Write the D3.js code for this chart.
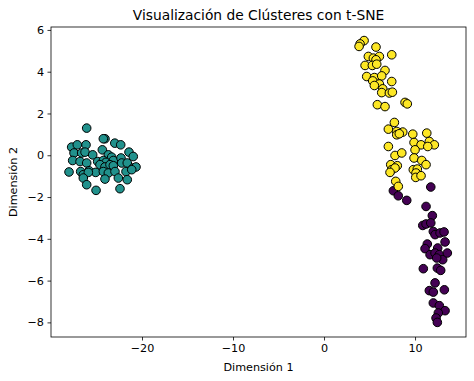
<!DOCTYPE html>
<html><head><meta charset="utf-8">
<script src="https://cdn.jsdelivr.net/npm/d3@7"></script>
<style>body{margin:0;background:#fff}svg{display:block}text{font-family:"DejaVu Sans",sans-serif;fill:#000}</style>
</head><body><svg id="c" width="474" height="381"></svg>
<script>
const clusterNames = ["c0", "c1", "c2"];
const clusterColors = ["#440154", "#21918c", "#fde725"];
const tealX = [-26.08,-24.07,-24.25,-22.99,-22.34,-27.73,-27.11,-26.15,-24.36,-21.43,-20.96,-27.47,-26.63,-26.26,-25.42,-23.70,-23.33,-27.62,-26.81,-26.08,-24.87,-24.25,-23.96,-23.15,-22.31,-22.23,-21.62,-24.62,-24.07,-23.52,-23.15,-20.96,-20.66,-28.02,-26.74,-25.82,-25.09,-26.45,-25.90,-24.25,-23.70,-22.97,-21.76,-21.13,-26.45,-24.07,-22.60,-21.62,-26.08,-25.05,-22.42];
const tealY = [1.30,0.79,0.79,0.58,0.50,0.39,0.50,0.50,0.26,0.15,-0.06,0.11,0.11,0.15,0.02,0.02,-0.09,-0.25,-0.30,-0.37,-0.30,-0.25,-0.34,-0.25,-0.13,-0.37,-0.37,-0.45,-0.56,-0.45,-0.50,-0.61,-0.56,-0.80,-0.78,-0.74,-0.82,-0.93,-0.82,-0.78,-0.85,-0.78,-0.78,-0.69,-1.09,-1.14,-1.09,-1.17,-1.41,-1.68,-1.60];
const yellowX = [4.40,3.96,3.85,5.71,4.87,5.42,6.08,7.44,5.71,4.51,5.31,5.79,6.70,4.69,5.53,6.34,5.35,6.08,7.44,5.53,6.45,6.34,7.18,7.51,5.86,6.70,8.90,9.15,7.73,7.07,7.99,8.65,9.75,11.29,7.99,8.27,9.89,10.66,11.57,12.12,11.40,7.07,10.00,7.80,8.54,9.89,10.74,7.33,8.05,11.21,7.44,7.80,7.25,9.81,10.25,10.11,10.08,10.66,7.88,8.16];
const yellowY = [5.49,5.33,5.21,5.18,4.73,4.65,4.73,4.81,4.57,4.30,4.30,4.36,4.06,3.77,3.72,3.80,3.56,3.41,3.53,3.34,3.18,3.00,2.98,3.02,2.42,2.33,2.53,2.46,1.57,1.25,1.14,1.11,1.01,1.06,0.98,1.03,0.61,0.50,0.66,0.50,0.42,0.42,0.26,-0.01,0.11,-0.13,-0.25,-0.45,-0.50,-0.45,-0.69,-0.61,-0.82,-0.69,-0.66,-0.85,-1.06,-0.98,-1.25,-1.49];
const purpleX = [7.62,8.16,9.09,11.73,11.21,11.90,10.85,11.21,11.73,12.01,12.20,12.75,13.19,13.30,11.35,11.10,12.49,11.65,12.20,12.67,13.04,13.55,12.38,10.91,12.45,12.82,12.20,11.57,12.01,13.22,12.01,12.67,13.30,12.56,12.31,12.45];
const purpleY = [-1.70,-1.94,-2.16,-1.52,-2.45,-2.89,-3.36,-3.29,-3.24,-3.65,-3.80,-3.72,-3.67,-4.15,-4.25,-4.47,-4.44,-4.76,-4.68,-4.76,-5.00,-4.68,-4.92,-5.43,-5.40,-5.51,-6.11,-6.48,-6.55,-6.44,-7.07,-7.20,-7.44,-7.55,-7.79,-8.00];
const xTicks = [-20, -10, 0, 10];
const yTicks = [-8, -6, -4, -2, 0, 2, 4, 6];
const titleText = "Visualización de Clústeres con t-SNE";
const xLabel = "Dimensión 1";
const yLabel = "Dimensión 2";

const pts = [];
purpleX.forEach((x,i)=>pts.push({x, y:purpleY[i], c:0}));
tealX.forEach((x,i)=>pts.push({x, y:tealY[i], c:1}));
yellowX.forEach((x,i)=>pts.push({x, y:yellowY[i], c:2}));

const L=51, R=466, T=27, B=337;
const svg = d3.select("#c");
const x = d3.scaleLinear().domain([-30.0, 15.6]).range([L, R]);
const y = d3.scaleLinear().domain([-8.7, 6.14]).range([B, T]);
const fmt = d => String(d).replace("-", "\u2212");

svg.append("g").selectAll("circle").data(pts).join("circle")
  .attr("cx", d=>x(d.x)).attr("cy", d=>y(d.y)).attr("r", 4.3)
  .attr("fill", d=>clusterColors[d.c]).attr("stroke", "#000").attr("stroke-width", 1);

const xa = svg.append("g").attr("transform", `translate(0,${B})`)
  .call(d3.axisBottom(x).tickValues(xTicks).tickFormat(fmt).tickSize(3.5).tickPadding(3.5));
const ya = svg.append("g").attr("transform", `translate(${L},0)`)
  .call(d3.axisLeft(y).tickValues(yTicks).tickFormat(fmt).tickSize(3.5).tickPadding(3.5));
[xa, ya].forEach(a => {
  a.select(".domain").remove();
  a.selectAll("line").attr("stroke", "#000").attr("stroke-width", 0.8);
  a.selectAll("text").attr("font-size", 11.2).attr("font-family", "DejaVu Sans").attr("fill", "#000");
});
svg.append("rect").attr("x", L).attr("y", T).attr("width", R-L).attr("height", B-T)
  .attr("fill", "none").attr("stroke", "#000").attr("stroke-width", 0.8);

svg.append("text").attr("x", (L+R)/2).attr("y", 20).attr("text-anchor", "middle")
  .attr("font-size", 13.8).text(titleText);
svg.append("text").attr("x", (L+R)/2).attr("y", 371).attr("text-anchor", "middle")
  .attr("font-size", 11.2).text(xLabel);
svg.append("text").attr("transform", `translate(17,${(T+B)/2}) rotate(-90)`).attr("text-anchor", "middle")
  .attr("font-size", 11.2).text(yLabel);
</script></body></html>
